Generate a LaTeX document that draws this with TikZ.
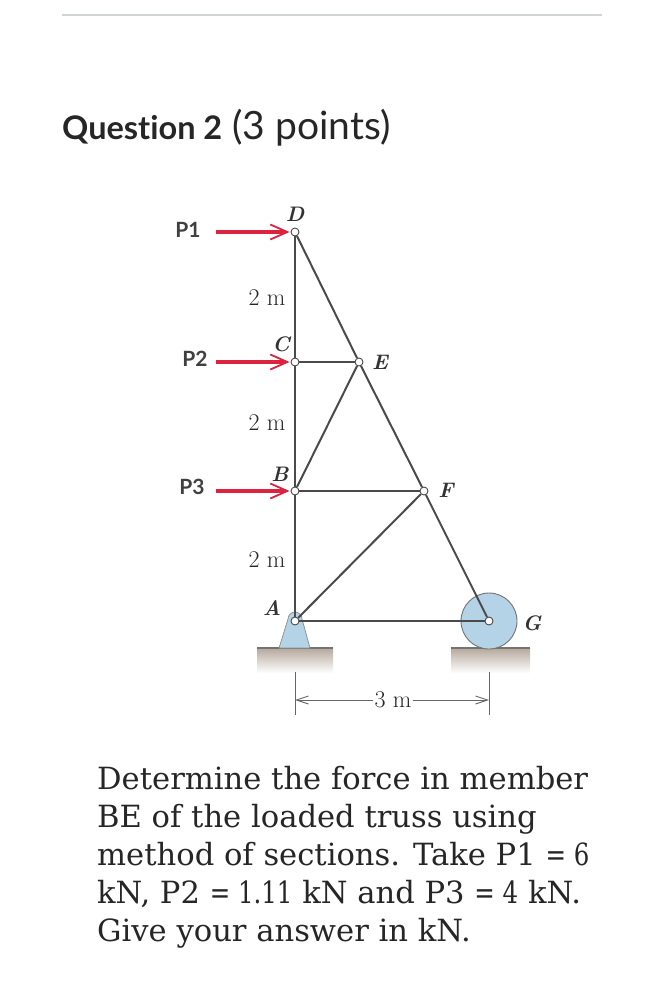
\documentclass[tikz,border=0pt]{standalone}
\usepackage{fontspec}
\usetikzlibrary{arrows.meta}
\newfontfamily\headfont[Ligatures=NoCommon]{Lato}
\newfontfamily\bodyfont{DejaVu Serif}
\newcommand{\nrw}[1]{{\addfontfeature{FakeStretch=0.8}#1}}
\definecolor{loadred}{HTML}{DC2340}
\definecolor{steelblue}{HTML}{B4D3E6}
\definecolor{groundtan}{HTML}{B5A89C}
\definecolor{rulegray}{HTML}{D0D5D8}
\definecolor{membergray}{HTML}{4A4A4A}
\begin{document}
\begin{tikzpicture}[x=1pt, y=-1pt,
  joint/.style={circle, draw=membergray, fill=white, line width=0.9pt, inner sep=0pt, minimum size=8pt},
  member/.style={draw=membergray, line width=2pt},
  load/.style={draw=loadred, line width=3.8pt, -{Straight Barb[length=17pt, width=15pt, line width=1.8pt]}, shorten >=1pt},
  loadname/.style={font=\headfont\bfseries\fontsize{21}{24}\selectfont, text=black!75},
  jointname/.style={font=\bfseries\itshape\fontsize{21}{24}\selectfont, text=black!80, inner sep=0pt},
  dimtext/.style={font=\fontsize{24}{28}\selectfont, text=black!85, inner sep=1pt},
  dimline/.style={draw=black!60, line width=1pt},
  dimarrow/.style={dimline, -{Straight Barb[length=12pt, width=8pt, line width=0.9pt]}},
  ground/.style={top color=groundtan, bottom color=white, draw=none}
]
\useasboundingbox (0,0) rectangle (648,994);

% header
\coordinate (ruleL) at (62,15);
\coordinate (ruleR) at (602,15);
\draw[rulegray, line width=2pt] (ruleL) -- (ruleR);
\node[anchor=base west, inner sep=0pt, font=\headfont\fontsize{39}{44}\selectfont, text=black!85] (title) at (62,139)
  {\textbf{\fontsize{32.5}{38}\selectfont Question 2} (3 points)};

% ground and supports
\fill[ground] (257,648) rectangle (333,673);
\fill[ground] (451,648) rectangle (530,673);
\draw[draw=black!55, line width=1.2pt] (257,648) -- (333,648);
\draw[draw=black!55, line width=1.2pt] (451,648) -- (530,648);
\draw[fill=steelblue, draw=black!45, line width=0.7pt] (279,648) -- (288,619) arc[start angle=180, end angle=360, x radius=7, y radius=7] -- (310,648) -- cycle;
\node[circle, fill=steelblue, draw=black!55, line width=0.9pt, minimum size=56pt, inner sep=0pt] (wheel) at (489,621) {};

% joints
\node[joint] (D) at (295,232) {};
\node[joint] (C) at (295,362) {};
\node[joint] (E) at (359,362) {};
\node[joint] (B) at (295,491) {};
\node[joint] (F) at (424,491) {};
\node[joint] (A) at (295,621) {};
\node[joint] (G) at (489,621) {};

% members
\draw[member] (D) -- (C);
\draw[member] (C) -- (B);
\draw[member] (B) -- (A);
\draw[member] (D) -- (E);
\draw[member] (E) -- (F);
\draw[member] (F) -- (G);
\draw[member] (C) -- (E);
\draw[member] (B) -- (F);
\draw[member] (B) -- (E);
\draw[member] (A) -- (F);
\draw[member] (A) -- (G);

% joint names
\node[jointname] (nameD) at (295,214) {D};
\node[jointname] (nameC) at (281,344) {C};
\node[jointname] (nameE) at (380,362) {E};
\node[jointname] (nameB) at (280,474) {B};
\node[jointname] (nameF) at (446,490) {F};
\node[jointname] (nameA) at (272,608) {A};
\node[jointname] (nameG) at (532,623) {G};

% loads
\node[loadname] (P1) at (188,230) {P1};
\node[loadname] (P2) at (195,359) {P2};
\node[loadname] (P3) at (192,487) {P3};
\coordinate (startP1) at (216,232);
\coordinate (startP2) at (216,362);
\coordinate (startP3) at (216,491);
\draw[load] (startP1) -- (D);
\draw[load] (startP2) -- (C);
\draw[load] (startP3) -- (B);

% dimensions
\node[dimtext] (dimDC) at (267,298) {2 m};
\node[dimtext] (dimCB) at (267,423) {2 m};
\node[dimtext] (dimBA) at (267,560) {2 m};
\node[dimtext] (dimAG) at (393,700) {3 m};
\coordinate (tickAt) at (295,672);
\coordinate (tickAb) at (295,715);
\coordinate (tickGt) at (489,672);
\coordinate (tickGb) at (489,715);
\coordinate (dimA) at (295,700);
\coordinate (dimG) at (489,700);
\draw[dimline] (tickAt) -- (tickAb);
\draw[dimline] (tickGt) -- (tickGb);
\draw[dimarrow] (dimAG) -- (dimA);
\draw[dimarrow] (dimAG) -- (dimG);

% question text
\node[anchor=north west, inner sep=0pt, align=left, font=\bodyfont\fontsize{30.6}{38}\selectfont, text=black!85] (question) at (97,766)
  {Determine the force in member\\BE of the loaded truss using\\method of sections. Take P1 \nrw{= 6}\\kN, P2 \nrw{= 1.11} kN and P3 \nrw{= 4} kN.\\Give your answer in kN.};
\end{tikzpicture}
\end{document}
